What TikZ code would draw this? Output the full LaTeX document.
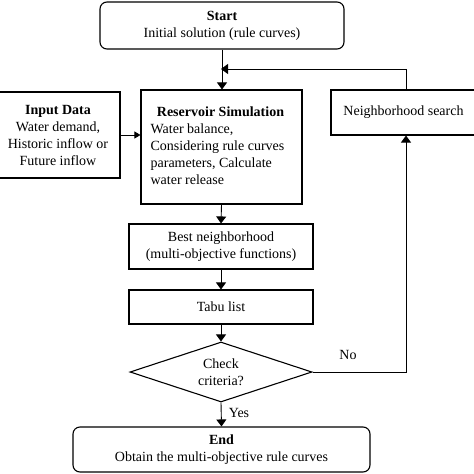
\documentclass[tikz,border=0pt]{standalone}
\usepackage{fontspec}
\setmainfont{Liberation Serif}
\usetikzlibrary{arrows.meta,shapes.geometric}
\begin{document}
\begin{tikzpicture}[x=1pt,y=1pt,
  every node/.style={font=\fontsize{14}{17}\selectfont},
  box/.style={draw=black,line width=1.1pt,rectangle,inner sep=0pt,align=center},
  rbox/.style={box,rounded corners=7pt},
  arr/.style={line width=0.9pt,-{Triangle[length=7pt,width=10pt]}},
  sarr/.style={line width=0.9pt,-{Triangle[length=6pt,width=7pt]}},
  lbl/.style={inner sep=0pt}]
\useasboundingbox (0,0) rectangle (474,-474);
\node[rbox,minimum width=244pt,minimum height=47pt] (start) at (222,-25.5)
  {\textbf{Start}\\Initial solution (rule curves)};
\node[box,minimum width=124pt,minimum height=86pt] (inp) at (58,-135)
  {\textbf{Input Data}\\Water demand,\\Historic inflow or\\Future inflow};
\node[box,minimum width=161pt,minimum height=114pt] (res) at (221.5,-147)
  {\hspace*{-8pt}\begin{tabular}{@{}l@{}}\multicolumn{1}{@{}c@{}}{\hspace*{6pt}\textbf{Reservoir Simulation}}\\Water balance,\\Considering rule curves\\parameters, Calculate\\water release\end{tabular}};
\node[box,minimum width=150pt,minimum height=45pt] (nbr) at (406,-112.5)
  {\hspace*{-5pt}Neighborhood search};
\node[box,minimum width=184pt,minimum height=45pt] (best) at (221,-246.5)
  {Best neighborhood\\(multi-objective functions)};
\node[box,minimum width=184pt,minimum height=34pt] (tabu) at (221,-307)
  {Tabu list};
\node[draw=black,line width=1.1pt,diamond,aspect=3,inner sep=0pt,
  minimum width=182pt,minimum height=60pt,align=center] (dia) at (221,-372)
  {Check\\criteria?};
\node[rbox,minimum width=297pt,minimum height=45pt] (end) at (221.5,-449.5)
  {\textbf{End}\\Obtain the multi-objective rule curves};
\coordinate (j) at (221,-69);
\draw[arr] (start.south) -- (start.south |- res.north);
\draw[arr] (nbr.north) |- (j);
\draw[sarr] (inp.east) -- (inp.east -| res.west);
\draw[arr] (res.south) -- (best.north);
\draw[arr] (best.south) -- (tabu.north);
\draw[arr] (tabu.south) -- (dia.north);
\draw[arr] (dia.south) -- (end.north);
\draw[arr] (dia.east) -| (nbr.south);
\node[lbl] (no) at (348,-355) {No};
\node[lbl] (yes) at (239,-413) {Yes};
\end{tikzpicture}
\end{document}
